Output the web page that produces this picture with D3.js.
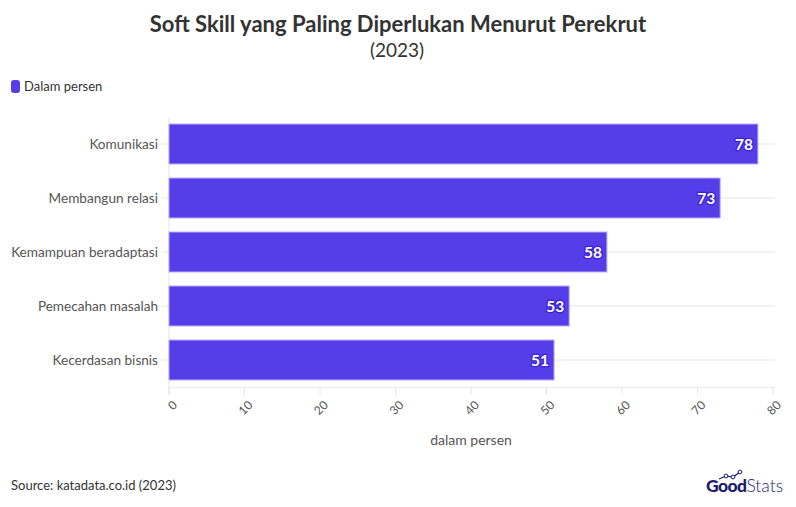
<!DOCTYPE html>
<html><head><meta charset="utf-8">
<script src="https://cdn.jsdelivr.net/npm/d3@7"></script>
<style>
body{margin:0;background:#fff;}
text{font-family:"Lato","Noto Sans",sans-serif;}
</style></head>
<body><svg id="c" width="796" height="507"></svg>
<script>
const categories = ["Komunikasi","Membangun relasi","Kemampuan beradaptasi","Pemecahan masalah","Kecerdasan bisnis"];
const values = [78,73,58,53,51];
const xTicks = [0,10,20,30,40,50,60,70,80];
const title = "Soft Skill yang Paling Diperlukan Menurut Perekrut";
const subtitle = "(2023)";
const legendLabel = "Dalam persen";
const axisTitle = "dalam persen";
const source = "Source: katadata.co.id (2023)";

const svg = d3.select("#c");
const W=796,H=507;
const m={l:169,r:23,t:117,b:120};
const color="#553de9";

const x=d3.scaleLinear().domain([0,80]).range([0,604]);
const y=d3.scaleBand().domain(categories).range([0,270]).paddingInner(0.26).paddingOuter(0.13);

svg.append("text").attr("x",398).attr("y",32).attr("text-anchor","middle")
  .attr("font-size",22).attr("font-weight","bold").attr("fill","#333").text(title);
svg.append("text").attr("x",397).attr("y",57).attr("text-anchor","middle")
  .attr("font-size",19).attr("fill","#333").text(subtitle);

svg.append("rect").attr("x",11).attr("y",80).attr("width",9).attr("height",13).attr("rx",3).attr("fill",color);
svg.append("text").attr("x",24).attr("y",91).attr("font-size",13).attr("fill","#333").text(legendLabel);

const g=svg.append("g").attr("transform",`translate(${m.l},${m.t})`);

g.selectAll(".hg").data(categories).join("line")
  .attr("x1",0).attr("x2",606)
  .attr("y1",d=>y(d)+y.bandwidth()/2).attr("y2",d=>y(d)+y.bandwidth()/2)
  .attr("stroke","#eeeeee").attr("stroke-width",1.5);
g.selectAll(".ct").data(categories).join("line")
  .attr("x1",-8).attr("x2",-1)
  .attr("y1",d=>y(d)+y.bandwidth()/2).attr("y2",d=>y(d)+y.bandwidth()/2)
  .attr("stroke","#eeeeee").attr("stroke-width",1.5);
g.append("line").attr("x1",0).attr("x2",0).attr("y1",0).attr("y2",278).attr("stroke","#eeeeee").attr("stroke-width",1.5);
g.append("line").attr("x1",0).attr("x2",606).attr("y1",270.5).attr("y2",270.5).attr("stroke","#eeeeee").attr("stroke-width",1.5);
g.selectAll(".xt").data(xTicks).join("line")
  .attr("x1",d=>x(d)).attr("x2",d=>x(d)).attr("y1",270).attr("y2",278)
  .attr("stroke","#e6e6e6").attr("stroke-width",1);

g.selectAll(".bar").data(values).join("rect")
  .attr("x",0).attr("y",(d,i)=>y(categories[i]))
  .attr("width",d=>x(d)).attr("height",y.bandwidth())
  .attr("fill",color).attr("stroke","#b4abf5").attr("stroke-width",1);

g.selectAll(".cl").data(categories).join("text")
  .attr("x",-11).attr("y",d=>y(d)+y.bandwidth()/2).attr("dy","0.35em")
  .attr("text-anchor","end").attr("font-size",13.6).attr("fill","#555").text(d=>d);

g.selectAll(".vl").data(values).join("text")
  .attr("x",d=>x(d)-5).attr("y",(d,i)=>y(categories[i])+y.bandwidth()/2).attr("dy","0.36em")
  .attr("text-anchor","end").attr("font-size",15.5).attr("font-weight","bold")
  .attr("fill","#fff").attr("stroke","#3d22d0").attr("stroke-width",2.5).attr("paint-order","stroke")
  .attr("stroke-linejoin","round").text(d=>d);

g.selectAll(".xl").data(xTicks).join("text")
  .attr("transform",d=>`translate(${x(d)+3},${283}) rotate(-45)`)
  .attr("text-anchor","end").attr("dy","0.7em").attr("font-size",12).attr("fill","#555").text(d=>d);

svg.append("text").attr("x",471).attr("y",445).attr("text-anchor","middle")
  .attr("font-size",14).attr("fill","#555").text(axisTitle);

svg.append("text").attr("x",11).attr("y",490).attr("font-size",13).attr("fill","#333").text(source);

// GoodStats logo
const lg=svg.append("g").attr("transform","translate(706,492)");
const good=lg.append("text").attr("x",0).attr("y",0).attr("font-size",17.5).attr("font-weight","900").attr("fill","#1b1b72").attr("letter-spacing",-0.6).text("Good");
const gw=good.node().getComputedTextLength();
lg.append("text").attr("x",gw).attr("y",0).attr("font-size",17.5).attr("font-weight","300").attr("fill","#1b1b72").text("Stats");
lg.append("path").attr("d","M13,-13 L20,-16 L27,-15 L34,-20").attr("fill","none").attr("stroke","#1b1b72").attr("stroke-width",1.2);
lg.selectAll("circle").data([[20,-16],[27,-15],[34,-20]]).join("circle")
  .attr("cx",d=>d[0]).attr("cy",d=>d[1]).attr("r",1.9).attr("fill","#fff").attr("stroke","#1b1b72").attr("stroke-width",1);
</script></body></html>
